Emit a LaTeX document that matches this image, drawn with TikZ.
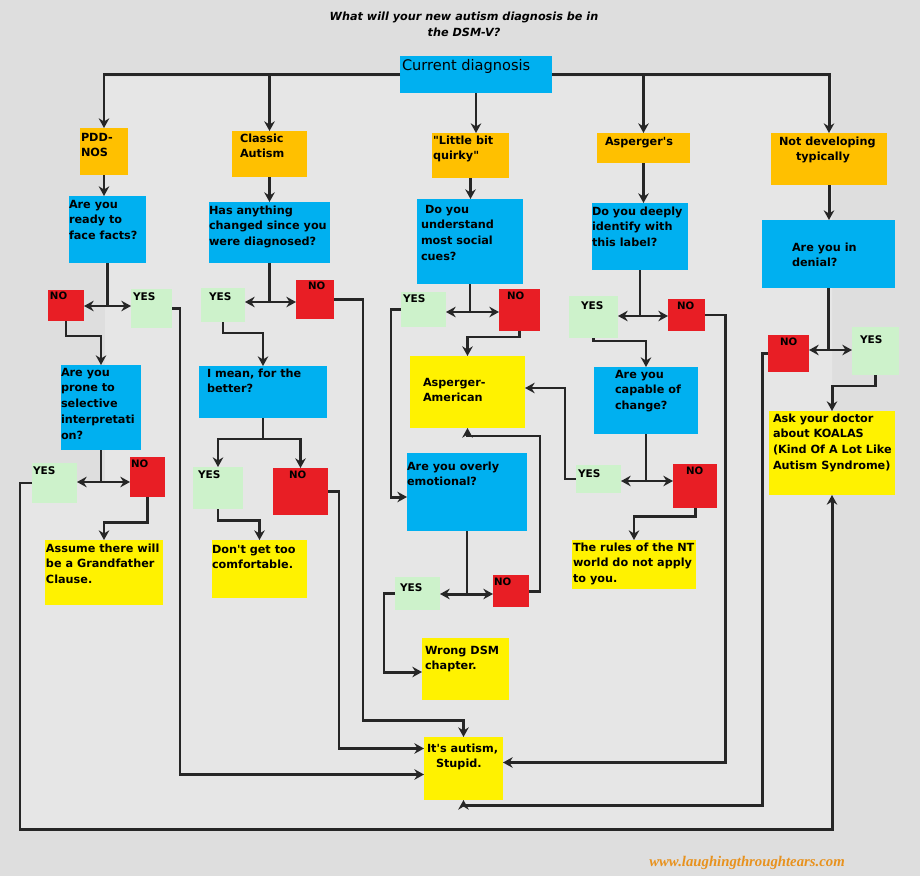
\documentclass[tikz,border=0pt]{standalone}
\usepackage{fontspec}
\setmainfont{DejaVu Sans}
\newfontfamily\webfont{Liberation Serif}
\usetikzlibrary{arrows.meta}

\newdimen\pxu \pxu=0.02cm
\definecolor{qblue}{HTML}{00B0F0}
\definecolor{dorange}{HTML}{FFC000}
\definecolor{ayellow}{HTML}{FFF200}
\definecolor{nored}{HTML}{E81E25}
\definecolor{yesgreen}{HTML}{CDF2CB}
\definecolor{bggray}{HTML}{DEDEDE}
\definecolor{panelgray}{HTML}{E6E6E6}
\definecolor{linegray}{HTML}{262626}
\definecolor{weborange}{HTML}{E8921E}

% box text: width, height, x pad, y pad, lines
\newcommand{\boxtext}[5]{\parbox[t][#2\pxu][t]{#1\pxu}{\vspace*{#4\pxu}\hspace*{#3\pxu}\begin{tabular}[t]{@{}l@{}}#5\end{tabular}}}
\newcommand{\ap}{\textquotesingle}

\tikzset{
  box/.style={anchor=north west, inner sep=0pt, outer sep=0pt, font=\fontsize{6.4}{9}\selectfont\bfseries},
  qbox/.style={box, fill=qblue},
  dbox/.style={box, fill=dorange},
  abox/.style={box, fill=ayellow},
  yesbox/.style={box, fill=yesgreen, font=\fontsize{6}{8}\selectfont\bfseries},
  nobox/.style={box, fill=nored, font=\fontsize{5.8}{8}\selectfont\bfseries},
  ln/.style={draw=linegray, line width=1.7pt},
  arr/.style={ln, -{Stealth[length=5.5pt,width=6pt]}},
}

\begin{document}
\begin{tikzpicture}[x=0.02cm, y=-0.02cm]
  \fill[bggray] (0,0) rectangle (920,876);
  \fill[panelgray] (105,77) rectangle (832,829) (20,483) rectangle (105,829);
  \useasboundingbox (0,0) rectangle (920,876);

  \node[font=\fontsize{6.4}{9}\selectfont\bfseries\itshape, align=center] (title) at (464,24)
    {What will your new autism diagnosis be in\\the DSM-V?};

  % current diagnosis and the five answers
  \node[qbox, font=\fontsize{8.3}{10}\selectfont] (cur) at (400,56) {\boxtext{152}{37}{2}{2}{Current diagnosis}};
  \node[dbox] (pdd) at (80,128) {\boxtext{48}{47}{1}{2}{PDD-\\NOS}};
  \node[dbox] (classic) at (232,131) {\boxtext{75}{46}{8}{0}{Classic\\Autism}};
  \node[dbox] (quirky) at (432,133) {\boxtext{77}{45}{1}{0}{\textquotedbl Little bit\\quirky\textquotedbl}};
  \node[dbox] (asp) at (597,133) {\boxtext{93}{30}{8}{1}{Asperger\ap s}};
  \node[dbox] (notdev) at (771,133) {\boxtext{116}{52}{8}{1}{Not developing\\\hspace*{17\pxu}typically}};

  % first questions
  \node[qbox] (ready) at (69,196) {\boxtext{77}{67}{0}{1}{Are you\\ready to\\face facts?}};
  \node[qbox] (changed) at (209,202) {\boxtext{121}{61}{0}{1}{Has anything\\changed since you\\were diagnosed?}};
  \node[qbox] (cues) at (417,199) {\boxtext{106}{85}{4}{3}{\hspace*{4\pxu}Do you\\understand\\most social\\cues?}};
  \node[qbox] (identify) at (592,203) {\boxtext{96}{67}{0}{1}{Do you deeply\\identify with\\this label?}};
  \node[qbox] (denial) at (762,220) {\boxtext{133}{68}{30}{20}{Are you in\\denial?}};

  % first answers
  \node[nobox] (no1) at (48,290) {\boxtext{36}{31}{2}{0}{NO}};
  \node[yesbox] (yes1) at (131,289) {\boxtext{41}{39}{2}{2}{YES}};
  \node[yesbox] (yes2) at (201,288) {\boxtext{44}{34}{8}{3}{YES}};
  \node[nobox] (no2) at (296,280) {\boxtext{38}{39}{12}{0}{NO}};
  \node[yesbox] (yes3) at (401,292) {\boxtext{45}{35}{2}{1}{YES}};
  \node[nobox] (no3) at (499,289) {\boxtext{41}{42}{8}{1}{NO}};
  \node[yesbox] (yes4) at (569,296) {\boxtext{49}{42}{12}{4}{YES}};
  \node[nobox] (no4) at (668,299) {\boxtext{37}{32}{9}{1}{NO}};
  \node[nobox] (no5) at (768,335) {\boxtext{41}{37}{12}{1}{NO}};
  \node[yesbox] (yes5) at (852,327) {\boxtext{47}{48}{8}{7}{YES}};

  % second questions
  \node[qbox] (prone) at (61,365) {\boxtext{80}{85}{0}{0}{Are you\\prone to\\selective\\interpretati\\on?}};
  \node[qbox] (better) at (199,366) {\boxtext{128}{52}{8}{0}{I mean, for the\\better?}};
  \node[abox] (aspam) at (410,356) {\boxtext{115}{72}{13}{19}{Asperger-\\American}};
  \node[qbox] (capable) at (594,367) {\boxtext{104}{67}{21}{0}{Are you\\capable of\\change?}};
  \node[qbox] (emotional) at (407,453) {\boxtext{120}{78}{0}{6}{Are you overly\\emotional?}};
  \node[abox] (koalas) at (769,411) {\boxtext{126}{84}{4}{0}{Ask your doctor\\about KOALAS\\(Kind Of A Lot Like\\Autism Syndrome)}};

  % second answers
  \node[yesbox] (yes6) at (32,463) {\boxtext{45}{40}{1}{2}{YES}};
  \node[nobox] (no6) at (130,457) {\boxtext{35}{40}{1}{1}{NO}};
  \node[yesbox] (yes7) at (193,467) {\boxtext{50}{42}{5}{2}{YES}};
  \node[nobox] (no7) at (273,468) {\boxtext{55}{47}{16}{1}{NO}};
  \node[yesbox] (yes8) at (576,465) {\boxtext{45}{28}{2}{3}{YES}};
  \node[nobox] (no8) at (673,464) {\boxtext{44}{44}{13}{1}{NO}};
  \node[yesbox] (yes9) at (395,577) {\boxtext{45}{33}{5}{5}{YES}};
  \node[nobox] (no9) at (493,575) {\boxtext{36}{32}{1}{1}{NO}};

  % outcomes
  \node[abox] (grand) at (45,540) {\boxtext{118}{65}{1}{1}{Assume there will\\be a Grandfather\\Clause.}};
  \node[abox] (comfy) at (212,540) {\boxtext{95}{58}{0}{2}{Don\ap t get too\\comfortable.}};
  \node[abox] (ntworld) at (572,540) {\boxtext{124}{49}{1}{0}{The rules of the NT\\world do not apply\\to you.}};
  \node[abox] (wrongdsm) at (422,638) {\boxtext{87}{62}{3}{5}{Wrong DSM\\chapter.}};
  \node[abox] (stupid) at (424,737) {\boxtext{79}{63}{3}{4}{It\ap s autism,\\\hspace*{9\pxu}Stupid.}};

  \node[font=\webfont\fontsize{8.4}{10}\selectfont\bfseries\itshape, text=weborange] (web) at (747,863)
    {www.laughingthroughtears.com};

  \coordinate (floor) at (0,829);

  % from the top box
  \draw[arr] (cur.west) -| (pdd.north);
  \draw[arr] (cur.west) -| (classic.north);
  \draw[arr] (cur.south) -- (cur.south |- quirky.north);
  \draw[arr] (cur.east) -| (asp.north);
  \draw[arr] (cur.east) -| (notdev.north);

  \draw[arr] (pdd.south) -- (pdd.south |- ready.north);
  \draw[arr] (classic.south) -- (classic.south |- changed.north);
  \draw[arr] (quirky.south) -- (quirky.south |- cues.north);
  \draw[arr] (asp.south) -- (asp.south |- identify.north);
  \draw[arr] (notdev.south) -- (notdev.south |- denial.north);

  % PDD-NOS
  \draw[ln] (ready.south) -- ++(0,43) coordinate (s1);
  \draw[arr] (s1) -- (s1 -| no1.east);
  \draw[arr] (s1) -- (s1 -| yes1.west);
  \draw[arr] (no1.south) -- ++(0,15) -| (prone.north);
  \draw[arr] (yes1.east) -- ++(8,0) |- ([yshift=-6\pxu]stupid.west);
  \draw[ln] (prone.south) -- ++(0,32) coordinate (s6);
  \draw[arr] (s6) -- (s6 -| yes6.east);
  \draw[arr] (s6) -- (s6 -| no6.west);
  \draw[arr] (no6.south) -- ++(0,25) -| (grand.north);
  \draw[arr] (yes6.west) -- ++(-12,0) |- (floor -| koalas.south) -- (koalas.south);

  % Classic Autism
  \draw[ln] (changed.south) -- ++(0,39) coordinate (s2);
  \draw[arr] (s2) -- (s2 -| yes2.east);
  \draw[arr] (s2) -- (s2 -| no2.west);
  \draw[arr] (yes2.south) -- ++(0,11) -| (better.north);
  \draw[arr] (no2.east) -- ++(29,0) |- ([yshift=17\pxu]stupid.north) -- (stupid.north);
  \draw[ln] (better.south) -- ++(0,21) coordinate (s7);
  \draw[arr] (s7) -| (yes7.north);
  \draw[arr] (s7) -| (no7.north);
  \draw[arr] (yes7.south) -- ++(0,11) -| (comfy.north);
  \draw[arr] (no7.east) -- ++(11,0) |- ([yshift=20\pxu]stupid.west);

  % Little bit quirky
  \draw[ln] (cues.south) -- ++(0,28) coordinate (s3);
  \draw[arr] (s3) -- (s3 -| yes3.east);
  \draw[arr] (s3) -- (s3 -| no3.west);
  \draw[arr] (no3.south) -- ++(0,6) -| (aspam.north);
  \draw[arr] (yes3.west) -- ++(-10,0) |- ([yshift=-5\pxu]emotional.west);
  \draw[ln] (emotional.south) -- ++(0,63) coordinate (s9);
  \draw[arr] (s9) -- (s9 -| yes9.east);
  \draw[arr] (s9) -- (s9 -| no9.west);
  \draw[arr] (yes9.west) -- ++(-11,0) |- ([yshift=-3\pxu]wrongdsm.west);
  \draw[arr] (no9.east) -- ++(11,0) |- ([yshift=-8\pxu]aspam.south) -- (aspam.south);

  % Asperger's
  \draw[ln] (identify.south) -- ++(0,46) coordinate (s4);
  \draw[arr] (s4) -- (s4 -| yes4.east);
  \draw[arr] (s4) -- (s4 -| no4.west);
  \draw[arr] (yes4.south) -- ++(0,3) -| (capable.north);
  \draw[arr] (no4.east) -- ++(20,0) |- ([yshift=6\pxu]stupid.east);
  \draw[ln] (capable.south) -- ++(0,47) coordinate (s8);
  \draw[arr] (s8) -- (s8 -| yes8.east);
  \draw[arr] (s8) -- (s8 -| no8.west);
  \draw[arr] (yes8.west) -- ++(-11,0) |- ([yshift=4\pxu]aspam.east);
  \draw[arr] (no8.south) -- ++(0,8) -| (ntworld.north);

  % Not developing typically
  \draw[ln] (denial.south) -- ++(0,62) coordinate (s5);
  \draw[arr] (s5) -- (s5 -| no5.east);
  \draw[arr] (s5) -- (s5 -| yes5.west);
  \draw[arr] (yes5.south) -- ++(0,11) -| (koalas.north);
  \draw[arr] (no5.west) -- ++(-6,0) |- ([yshift=-5\pxu]stupid.south) -- (stupid.south);
\end{tikzpicture}
\end{document}
